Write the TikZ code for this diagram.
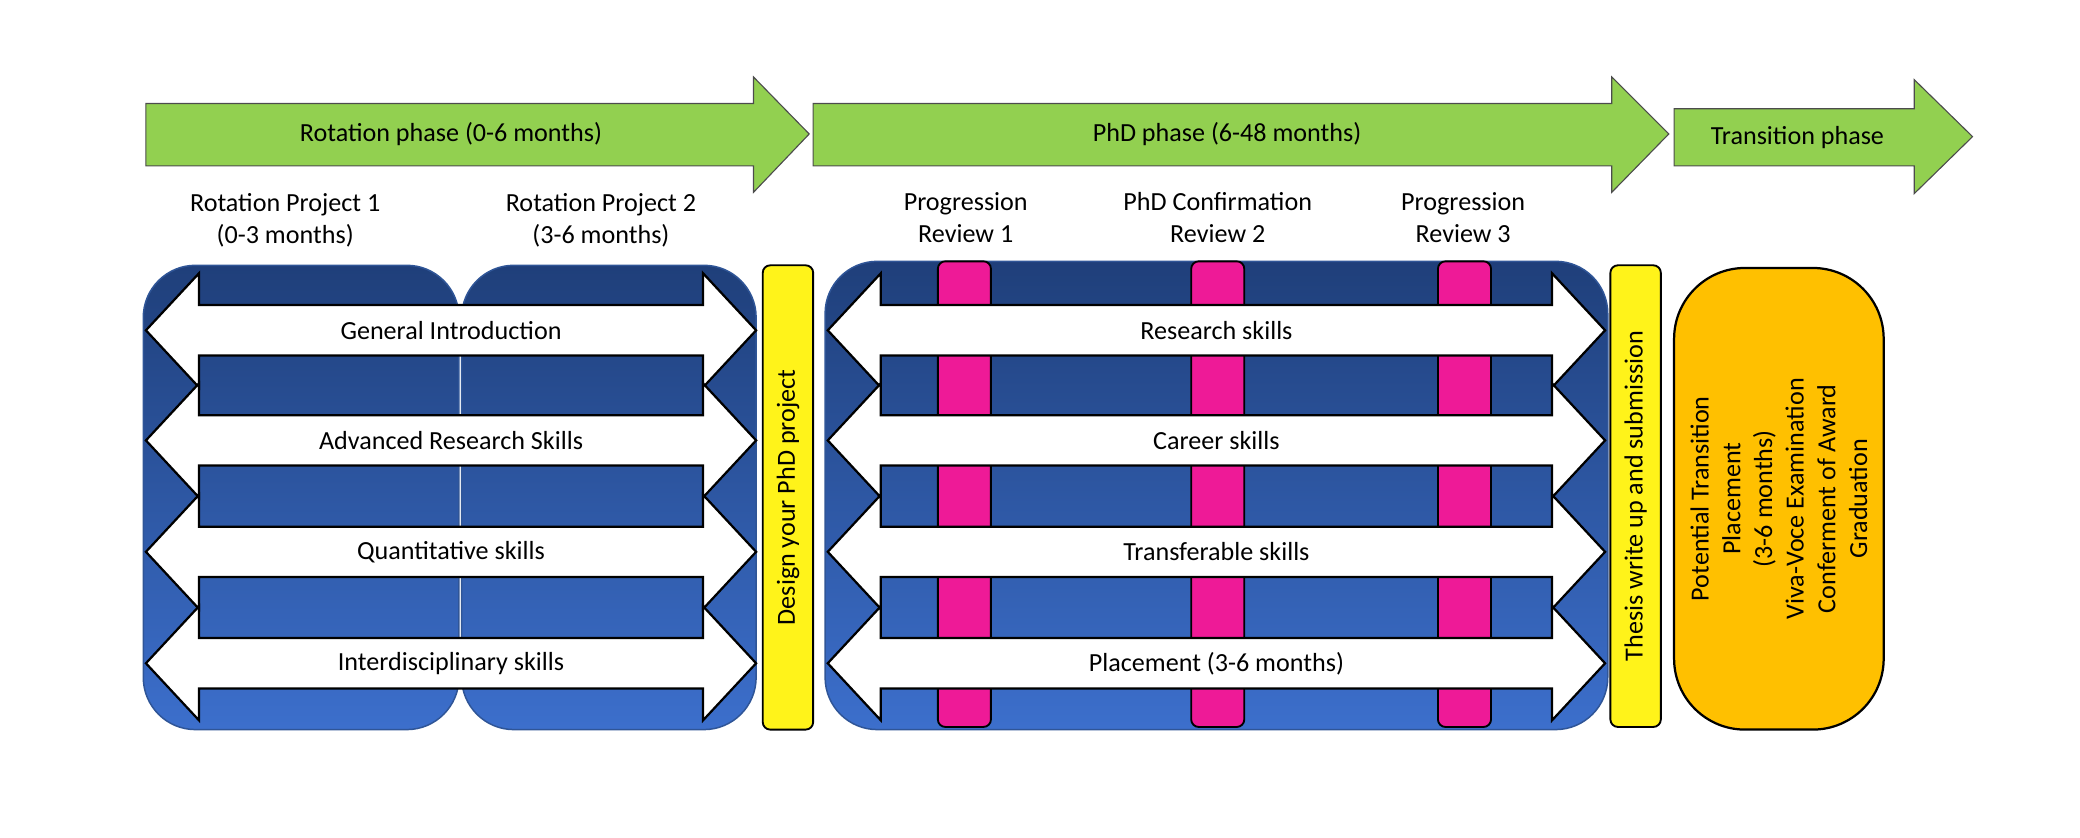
\documentclass[tikz,border=0pt]{standalone}
\usepackage{fontspec}
\setmainfont{Carlito}
\begin{document}
\begin{tikzpicture}[x=0.025cm,y=-0.025cm,
  txt/.style={font=\fontsize{14}{17}\selectfont,align=center,inner sep=0pt},
  green/.style={fill=arrowgreen,draw=black!70,line width=0.6pt},
  blue/.style={top color=blueTop,bottom color=blueBot,draw=blueEdge,line width=0.8pt,rounded corners=28},
  mag/.style={fill=magenta!90!white,draw=black,line width=1pt,rounded corners=4},
  ybar/.style={fill=yellow!90!white,draw=black,line width=1pt,rounded corners=4},
  wa/.style={fill=white,draw=black,line width=1.2pt}]
\definecolor{arrowgreen}{HTML}{92D050}
\definecolor{blueTop}{HTML}{1F3F7A}
\definecolor{blueBot}{HTML}{3C6FCC}
\definecolor{blueEdge}{HTML}{2F5597}
\definecolor{orng}{HTML}{FFC000}
\useasboundingbox (0,0) rectangle (1568,631);
% green arrows
\draw[green] (110,78)--(568,78)--(568,58)--(610,101)--(568,145)--(568,125)--(110,125)--cycle;
\node[txt] (g1) at (340,101) {Rotation phase (0-6 months)};
\draw[green] (613,78)--(1215,78)--(1215,58)--(1258,101)--(1215,145)--(1215,125)--(613,125)--cycle;
\node[txt] (g2) at (925,101) {PhD phase (6-48 months)};
\draw[green] (1262,82)--(1443,82)--(1443,60)--(1487,103)--(1443,146)--(1443,125)--(1262,125)--cycle;
\node[txt] (g3) at (1355,104) {Transition phase};
% headings
\node[txt] (h1) at (215,166) {Rotation Project 1\\(0-3 months)};
\node[txt] (h2) at (453,166) {Rotation Project 2\\(3-6 months)};
\node[txt] (h3) at (728,164) {Progression\\Review 1};
\node[txt] (h4) at (918,164) {PhD Confirmation\\Review 2};
\node[txt] (h5) at (1103,164) {Progression\\Review 3};
% blue boxes
\draw[blue] (108,200) rectangle (346,550);
\draw[blue] (348,200) rectangle (570,550);
\draw[blue] (622,197) rectangle (1212,550);
% magenta
\foreach \x in {707,898,1084}{\draw[mag] (\x,197) rectangle (\x+40,548);}
% white arrows
\foreach \c/\a/\b/\t in {249/110/570/General Introduction,332/110/570/Advanced Research Skills,416/110/570/Quantitative skills,500/110/570/Interdisciplinary skills,
  249/624/1210/Research skills,332/624/1210/Career skills,416/624/1210/Transferable skills,500/624/1210/Placement (3-6 months)}{
  \draw[wa] (\a,\c)--(\a+40,\c-43)--(\a+40,\c-19)--(\b-40,\c-19)--(\b-40,\c-43)--(\b,\c)--(\b-40,\c+43)--(\b-40,\c+19)--(\a+40,\c+19)--(\a+40,\c+43)--cycle;
  \node[txt] at ({(\a+\b)/2},\c) {\t};}
% yellow bars
\draw[ybar] (575,200) rectangle (613,550);
\node[txt,rotate=90] (y1) at (594,375) {Design your PhD project};
\draw[ybar] (1214,200) rectangle (1252,548);
\node[txt,rotate=90] (y2) at (1233,374) {Thesis write up and submission};
% orange box
\draw[fill=orng,draw=black,line width=1.2pt,rounded corners=38] (1262,202) rectangle (1420,550);
\node[txt,rotate=90] (o) at (1341,376) {Potential Transition\\Placement\\(3-6 months)\\Viva-Voce Examination\\Conferment of Award\\Graduation};
\end{tikzpicture}
\end{document}
